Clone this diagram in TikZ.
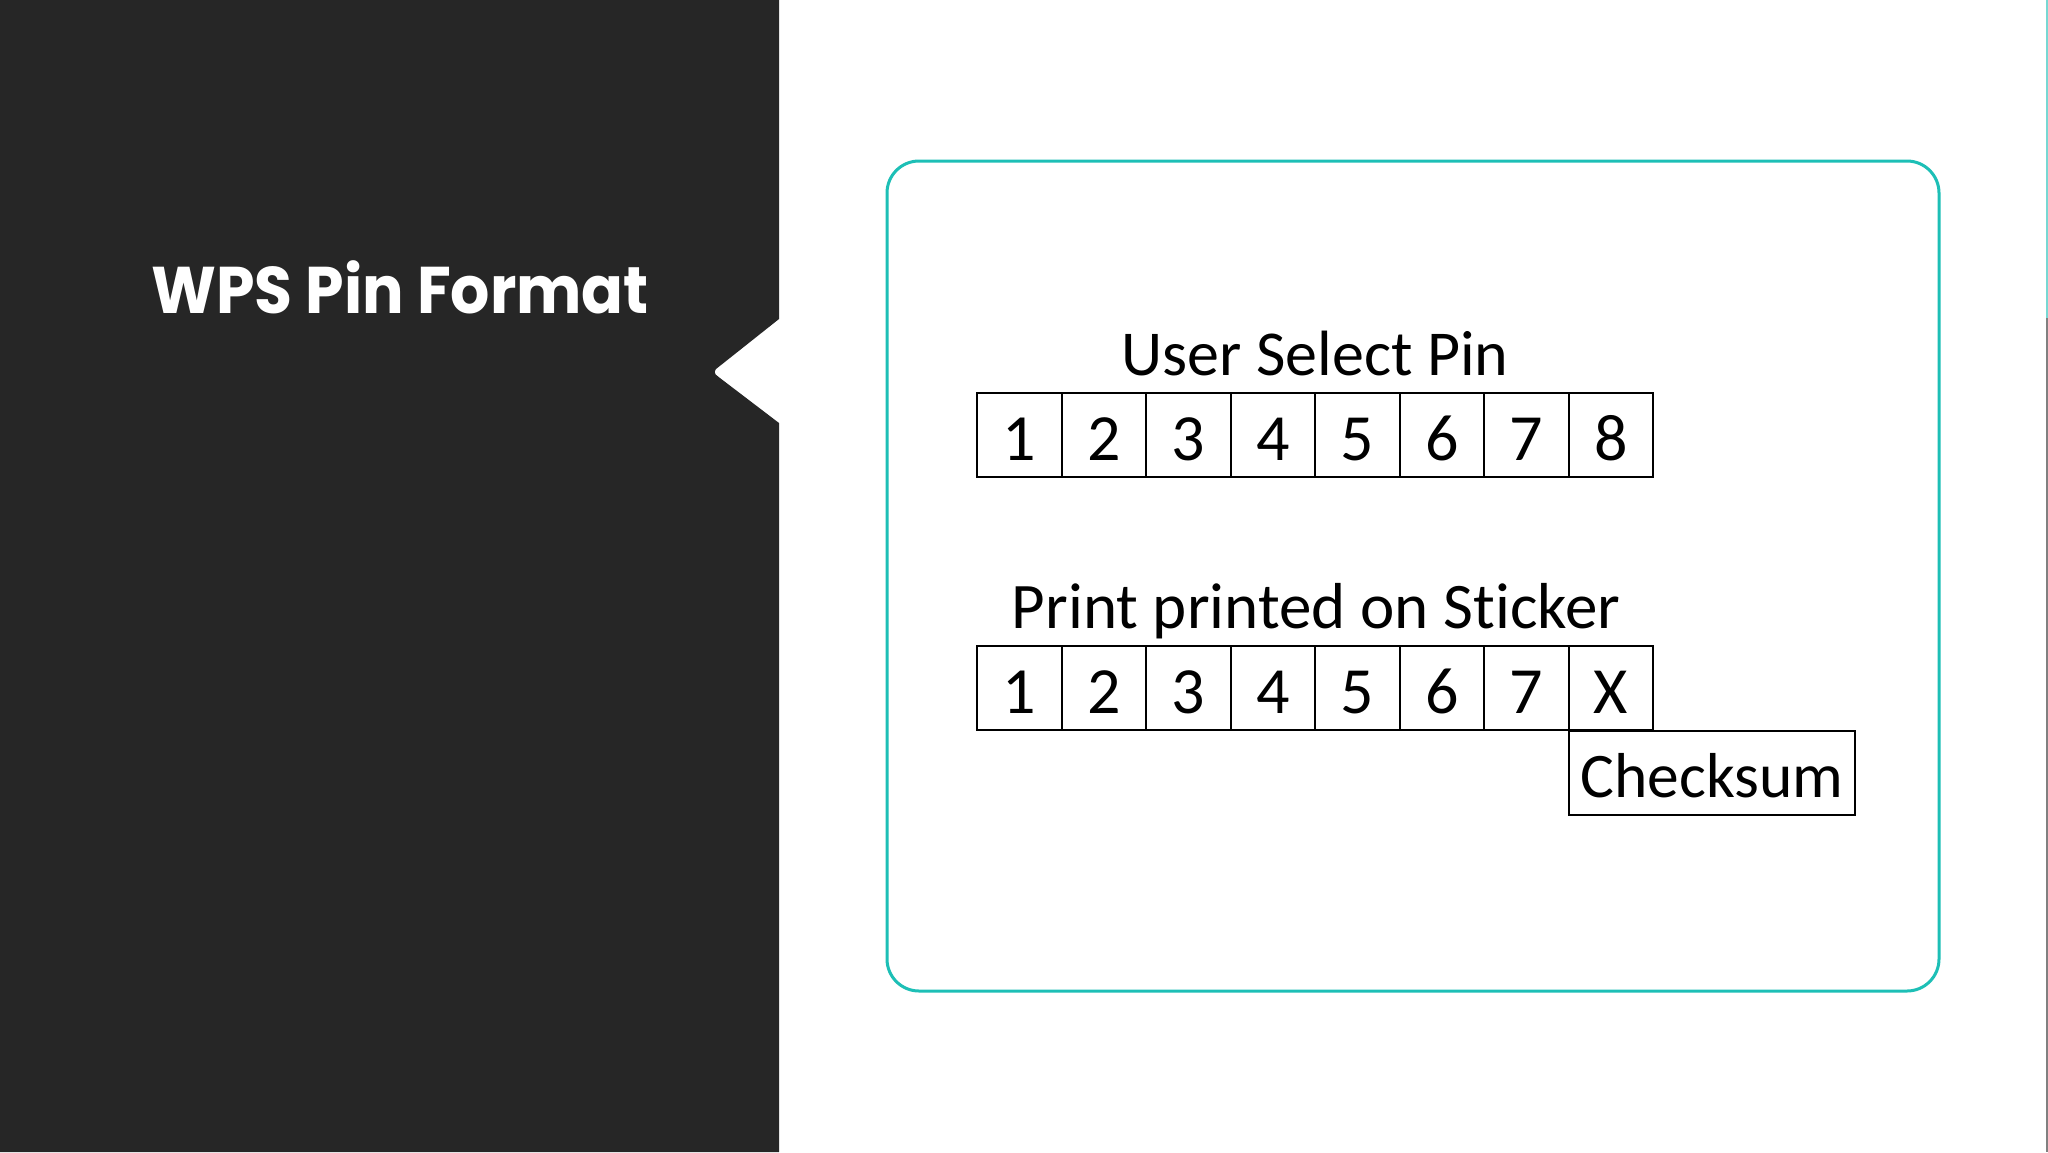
\documentclass[tikz,border=0pt]{standalone}
\usepackage{fontspec}
\setmainfont{Carlito}[Ligatures=NoCommon]
\newfontfamily\titlefont[FakeStretch=0.935]{Poppins}
\definecolor{panel}{HTML}{262626}
\definecolor{tealline}{HTML}{1DBFB6}
\tikzset{
  digitbox/.style={draw=black, line width=2pt, minimum width=84.5pt, minimum height=84pt, inner sep=0pt,
    font=\fontsize{66}{70}\selectfont, text=black},
  labeltext/.style={text=black, inner sep=0pt, anchor=base},
}
\begin{document}
\begin{tikzpicture}[x=1pt,y=-1pt]
\useasboundingbox (0,0) rectangle (2048,1152);
\fill[white] (0,0) rectangle (2048,1152);
% dark panel with notch
\fill[panel] (0,0) -- (779,0) -- (779,319) -- (716,369) [rounded corners=4pt] -- (713,372) -- (716,375) [sharp corners] -- (779,423) -- (779,1152) -- (0,1152) -- cycle;
% right edge lines
\draw[tealline!60, line width=1.2pt] (2047,0) -- (2047,318);
\draw[gray, line width=1.2pt] (2047,318) -- (2047,1152);
% title
\node[font=\titlefont\bfseries\fontsize{66}{80}\selectfont, text=white, anchor=base, inner sep=0pt] (title) at (400,313) {WPS Pin Format};
% frame
\draw[tealline, line width=3pt, rounded corners=32pt] (887,161) rectangle (1939,991);
% labels
\node[labeltext, font=\fontsize{64}{70}\selectfont] (lab1) at (1315,375) {User Select Pin};
\node[labeltext, font=\fontsize{65}{70}\selectfont] (lab2) at (1316,628) {Print printed on Sticker};
% row 1
\foreach \d [count=\i] in {1,2,3,4,5,6,7,8} {
  \node[digitbox] (a\i) at ({977+84.5*(\i-0.5)},435) {};
  \node[labeltext, font=\fontsize{66}{70}\selectfont] (ta\i) at ({977+84.5*(\i-0.5)},460) {\d};
}
% row 2
\foreach \d [count=\i] in {1,2,3,4,5,6,7,X} {
  \node[digitbox] (b\i) at ({977+84.5*(\i-0.5)},688) {};
  \node[labeltext, font=\fontsize{66}{70}\selectfont] (tb\i) at ({977+84.5*(\i-0.5)},713) {\d};
}
% checksum
\node[digitbox, minimum width=286pt] (cs) at (1712,773) {};
\node[labeltext, font=\fontsize{63.5}{70}\selectfont] (cst) at (1712,797) {Checksum};
\end{tikzpicture}
\end{document}
